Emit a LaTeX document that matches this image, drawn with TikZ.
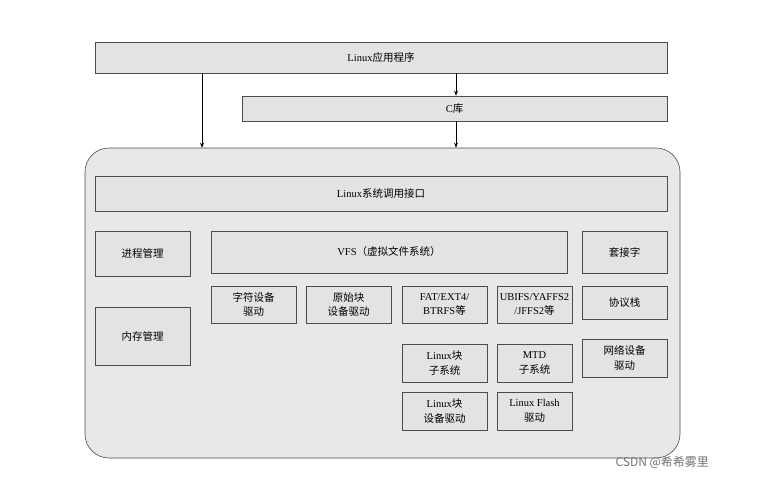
\documentclass[tikz,border=0pt]{standalone}
\usepackage{fontspec}
\setmainfont{Liberation Serif}
\newfontfamily\cjkf{Noto Sans CJK SC}
\newcommand{\zh}[1]{{\cjkf #1}}
\usetikzlibrary{arrows.meta}
\newcommand{\bx}[6]{\node[bx,minimum width={#4-#2},minimum height={#5-#3}] (#1) at ({(#2+#4)/2},{(#3+#5)/2}) {#6};}
\begin{document}
\begin{tikzpicture}[x=1pt,y=-1pt,
  bx/.style={draw=black!70,fill=black!11,line width=0.6pt,inner sep=1pt,align=center,font=\fontsize{10.5}{14.5}\selectfont},
  arr/.style={-{Stealth[length=5pt,width=4pt]},line width=0.6pt}]
\useasboundingbox (0,0) rectangle (768,480);
\fill[white] (0,0) rectangle (768,480);
\node[draw=black!70,fill=black!9,line width=0.6pt,rounded corners=24pt,minimum width=595,minimum height=310,inner sep=0] (sys) at (382.5,303) {};
\bx{app}{95}{42}{667}{73}{Linux\zh{应用程序}}
\bx{clib}{242}{96}{667}{121}{C\zh{库}}
\bx{sci}{95}{176}{667}{211}{Linux\zh{系统调用接口}}
\bx{proc}{95}{231}{190}{276}{\zh{进程管理}}
\bx{mem}{95}{307}{190}{365}{\zh{内存管理}}
\bx{vfs}{211}{231}{567}{273}{VFS\zh{（虚拟文件系统）}}
\bx{sock}{582}{231}{667}{273}{\zh{套接字}}
\bx{chr}{211}{286}{296}{323}{\zh{字符设备}\\\zh{驱动}}
\bx{raw}{306}{286}{391}{323}{\zh{原始块}\\\zh{设备驱动}}
\bx{fat}{402}{286}{487}{323}{FAT/EXT4/\\BTRFS\zh{等}}
\bx{ubi}{497}{286}{572}{323}{UBIFS/YAFFS2\\/JFFS2\zh{等}}
\bx{proto}{582}{286}{667}{319}{\zh{协议栈}}
\bx{net}{582}{339}{667}{377}{\zh{网络设备}\\\zh{驱动}}
\bx{blk}{402}{344}{487}{382}{Linux\zh{块}\\\zh{子系统}}
\bx{mtd}{497}{344}{572}{382}{MTD\\\zh{子系统}}
\bx{blkd}{402}{392}{487}{430}{Linux\zh{块}\\\zh{设备驱动}}
\bx{fl}{497}{392}{572}{430}{Linux Flash\\\zh{驱动}}
\draw[arr] (app.south -| 202,0) -- (sys.north -| 202,0);
\draw[arr] (app.south -| 456,0) -- (clib.north -| 456,0);
\draw[arr] (clib.south -| 456,0) -- (sys.north -| 456,0);
\node[anchor=west,text=black!55,font=\fontsize{12}{14}\selectfont\cjkf] (wm) at (612,462) {CSDN @希希雾里};
\end{tikzpicture}
\end{document}
